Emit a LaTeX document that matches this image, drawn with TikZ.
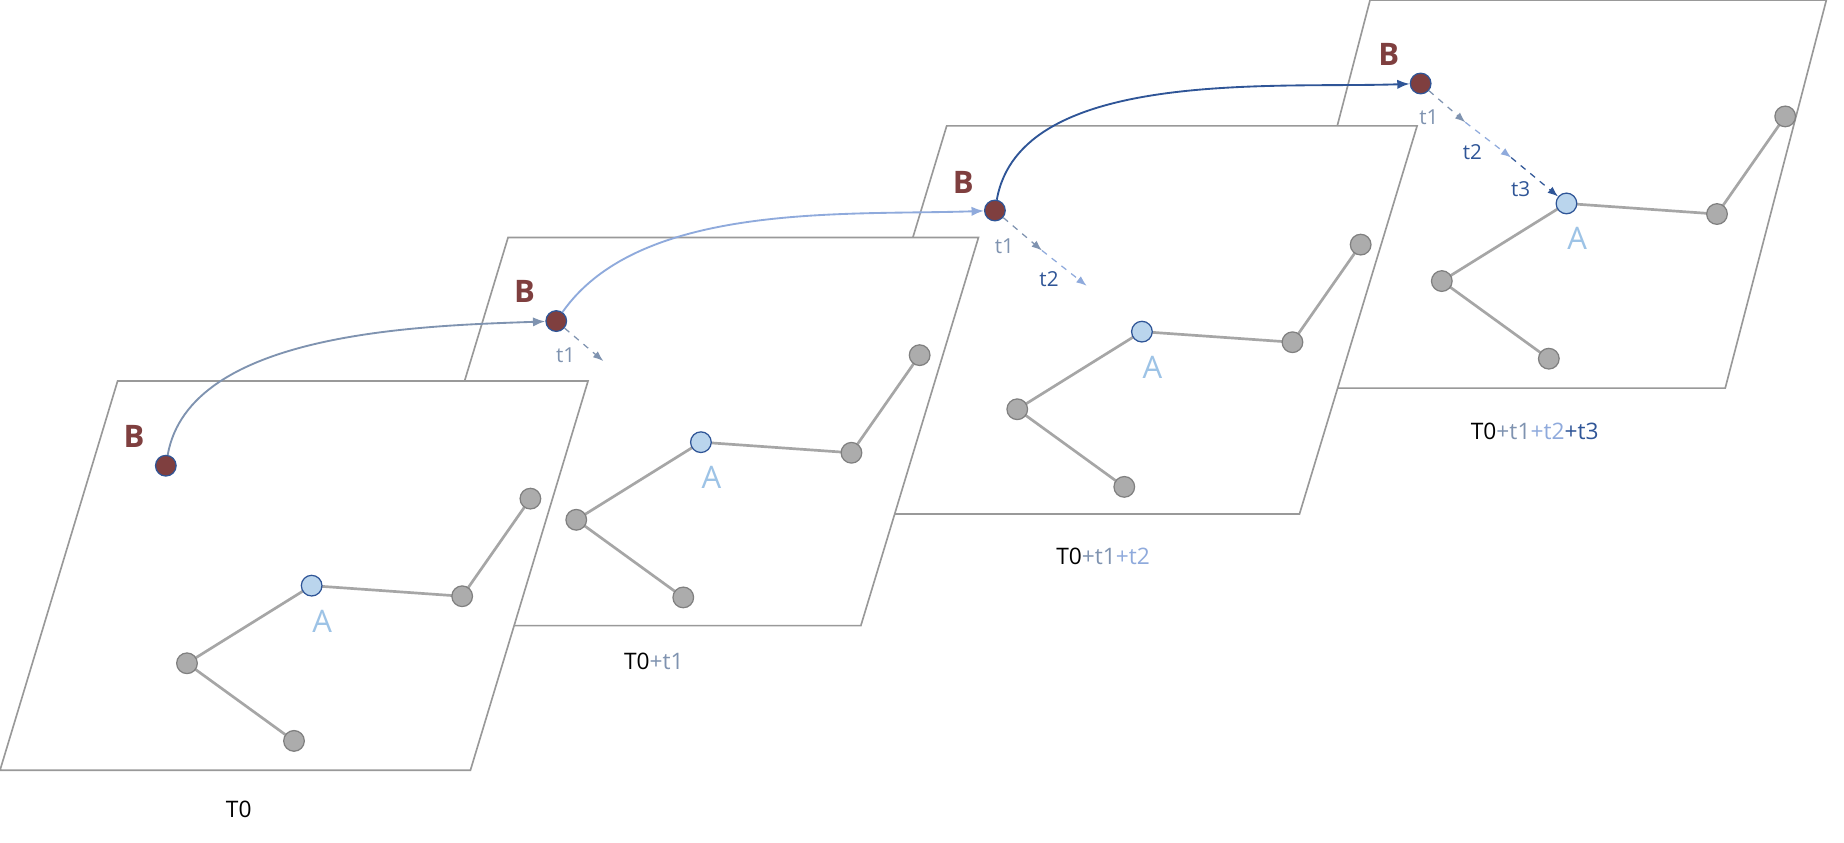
\documentclass[tikz,border=0pt]{standalone}
\usepackage{fontspec}
\setmainfont{Open Sans}
\usetikzlibrary{arrows.meta}
\definecolor{cOne}{HTML}{7F93B0}
\definecolor{cTwo}{HTML}{8FAADC}
\definecolor{cThree}{HTML}{2F5597}
\definecolor{bBrown}{HTML}{7F3F3F}
\definecolor{aBlue}{HTML}{9DC3E6}
\begin{document}
\begin{tikzpicture}[x=0.02cm,y=-0.02cm,
  plane/.style={draw=gray!80, fill=white, line width=0.8pt},
  gnode/.style={circle, fill=gray!65, draw=gray, line width=0.6pt, minimum size=10pt, inner sep=0pt},
  anode/.style={circle, fill=aBlue!70, draw=cThree, line width=0.6pt, minimum size=10pt, inner sep=0pt},
  bnode/.style={circle, fill=bBrown, draw=cThree, line width=0.6pt, minimum size=10pt, inner sep=0pt},
  edge/.style={draw=gray!70, line width=1.3pt},
  blab/.style={text=bBrown, font=\bfseries\fontsize{15}{15}\selectfont},
  alab/.style={text=aBlue, font=\fontsize{15}{15}\selectfont},
  captxt/.style={font=\fontsize{11}{11}\selectfont},
  tlab/.style={font=\fontsize{10}{10}\selectfont},
  darr/.style={dashed, -{Latex[length=5pt]}, line width=0.6pt},
  carr/.style={-{Latex[length=6pt]}, line width=0.9pt}]
\useasboundingbox (0,0) rectangle (1568,716);
% planes back to front
\draw[plane] (1165,0) -- (1553,0) -- (1467,330) -- (1079,330) -- cycle;
\draw[plane] (805,107) -- (1205,107) -- (1105,437) -- (705,437) -- cycle;
\draw[plane] (432,202) -- (832,202) -- (732,532) -- (332,532) -- cycle;
\draw[plane] (100,324) -- (500,324) -- (400,655) -- (0,655) -- cycle;
% graphs
\foreach \dx/\dy/\i in {0/0/1, 331/-122/2, 706/-216/3, 1067/-325/4}{
  \begin{scope}[shift={(\dx,\dy)}]
    \coordinate (g1\i) at (159,564);
    \coordinate (g2\i) at (250,630);
    \coordinate (g3\i) at (393,507);
    \coordinate (g4\i) at (451,424);
    \coordinate (a\i) at (265,498);
    \draw[edge] (g1\i) -- (a\i) -- (g3\i) -- (g4\i);
    \draw[edge] (g1\i) -- (g2\i);
    \node[gnode] at (g1\i) {};
    \node[gnode] at (g2\i) {};
    \node[gnode] at (g3\i) {};
    \node[gnode] at (g4\i) {};
    \node[anode] (A\i) at (a\i) {};
    \node[alab] at (274,528) {A};
  \end{scope}}
% B nodes
\node[bnode] (B1) at (141,396) {};
\node[bnode] (B2) at (473,273) {};
\node[bnode] (B3) at (846,179) {};
\node[bnode] (B4) at (1208,71) {};
\node[blab] at (114,371) {B};
\node[blab] at (446,248) {B};
\node[blab] at (819,155) {B};
\node[blab] at (1181,46) {B};
% curved arrows
\draw[carr, cOne] (B1) to[out=80, in=182, looseness=0.8] (B2);
\draw[carr, cTwo] (B2) to[out=55, in=182, looseness=0.8] (B3);
\draw[carr, cThree] (B3) to[out=80, in=182, looseness=0.8] (B4);
% dashed steps
\coordinate (p21) at (513,307);
\draw[darr, cOne] (B2) -- (p21);
\node[tlab, text=cOne] at (481,302) {t1};
\coordinate (p31) at (886,213);
\coordinate (p32) at (924,243);
\draw[darr, cOne] (B3) -- (p31);
\draw[darr, cTwo] (p31) -- (p32);
\node[tlab, text=cOne] at (854,209) {t1};
\node[tlab, text=cThree] at (892,237) {t2};
\coordinate (p41) at (1246,104);
\coordinate (p42) at (1285,134);
\draw[darr, cOne] (B4) -- (p41);
\draw[darr, cTwo] (p41) -- (p42);
\draw[darr, cThree] (p42) -- (A4);
\node[tlab, text=cOne] at (1215,100) {t1};
\node[tlab, text=cThree] at (1252,129) {t2};
\node[tlab, text=cThree] at (1293,161) {t3};
% captions
\node[captxt] at (203,688) {T0};
\node[captxt] at (556,562) {T0\textcolor{cOne}{+t1}};
\node[captxt] at (938,473) {T0\textcolor{cOne}{+t1}\textcolor{cTwo}{+t2}};
\node[captxt] at (1305,367) {T0\textcolor{cOne}{+t1}\textcolor{cTwo}{+t2}\textcolor{cThree}{+t3}};
\end{tikzpicture}
\end{document}
